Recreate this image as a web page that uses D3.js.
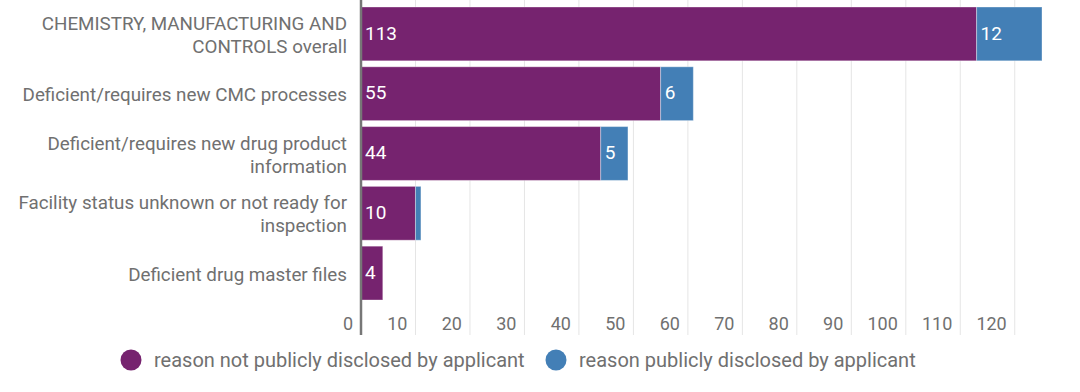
<!DOCTYPE html>
<html>
<head>
<meta charset="utf-8">
<script src="https://cdn.jsdelivr.net/npm/d3@7"></script>
<style>
  body { margin: 0; background: #fff; }
  text { font-family: Roboto, sans-serif; }
</style>
</head>
<body>
<div id="chart"></div>
<script>
const categories = [
  "CHEMISTRY, MANUFACTURING AND CONTROLS overall",
  "Deficient/requires new CMC processes",
  "Deficient/requires new drug product information",
  "Facility status unknown or not ready for inspection",
  "Deficient drug master files"
];
const notDisclosed = [113, 55, 44, 10, 4];
const disclosed = [12, 6, 5, 1, 0];
const seriesNames = ["reason not publicly disclosed by applicant", "reason publicly disclosed by applicant"];
const tickValues = [0, 10, 20, 30, 40, 50, 60, 70, 80, 90, 100, 110, 120];

const W = 1080, H = 392;
const colors = ["#76236f", "#437fb6"];
const textColor = "#707070";

const svg = d3.select("#chart").append("svg")
  .attr("width", W)
  .attr("height", H);

const x = d3.scaleLinear().domain([0, 125]).range([361, 1042]);
const y = d3.scaleBand().domain(categories).range([7, 300]).paddingInner(0.1).paddingOuter(0);

// gridlines
svg.append("g")
  .selectAll("line")
  .data(tickValues.slice(1))
  .join("line")
  .attr("x1", d => x(d)).attr("x2", d => x(d))
  .attr("y1", 0).attr("y2", 335)
  .attr("stroke", "#e5e5e5")
  .attr("stroke-width", 1);

// tick labels
svg.append("g")
  .selectAll("text")
  .data(tickValues)
  .join("text")
  .attr("x", d => x(d) - 8)
  .attr("y", 324)
  .attr("dy", "0.35em")
  .attr("text-anchor", "end")
  .attr("fill", textColor)
  .style("font-size", "18px")
  .text(d => d);

// stacked bars
const rows = categories.map((c, i) => ({ cat: c, vals: [notDisclosed[i], disclosed[i]] }));
rows.forEach(r => {
  let start = 0;
  r.vals.forEach((v, k) => {
    if (v <= 0) return;
    svg.append("rect")
      .attr("x", x(start))
      .attr("y", y(r.cat))
      .attr("width", x(start + v) - x(start))
      .attr("height", y.bandwidth())
      .attr("fill", colors[k])
      .attr("stroke", "#fff")
      .attr("stroke-opacity", 0.35)
      .attr("stroke-width", 1);
    if (x(start + v) - x(start) > 14) {
      svg.append("text")
        .attr("x", x(start) + 4)
        .attr("y", y(r.cat) + y.bandwidth() / 2 - 1)
        .attr("dy", "0.35em")
        .attr("fill", "#fff")
        .style("font-size", "19px")
        .text(v);
    }
    start += v;
  });
});

// axis line
svg.append("line")
  .attr("x1", x(0)).attr("x2", x(0))
  .attr("y1", 0).attr("y2", 335)
  .attr("stroke", "#777")
  .attr("stroke-width", 2.5);

// category labels with wrapping
function wrapLines(str, maxW, size) {
  const tmp = svg.append("text").style("font-size", size);
  const words = str.split(" ");
  const lines = [];
  let cur = "";
  words.forEach(w => {
    const test = cur ? cur + " " + w : w;
    tmp.text(test);
    if (tmp.node().getComputedTextLength() > maxW && cur) {
      lines.push(cur);
      cur = w;
    } else {
      cur = test;
    }
  });
  lines.push(cur);
  tmp.remove();
  return lines;
}

categories.forEach(c => {
  const lines = wrapLines(c, 340, "18.8px");
  const cy = y(c) + y.bandwidth() / 2 + 1;
  const lh = 23;
  const t = svg.append("text")
    .attr("text-anchor", "end")
    .attr("fill", textColor)
    .style("font-size", "18.8px");
  lines.forEach((l, i) => {
    t.append("tspan")
      .attr("x", 347)
      .attr("y", cy + (i - (lines.length - 1) / 2) * lh)
      .attr("dy", "0.35em")
      .text(l);
  });
});

// legend
const legend = svg.append("g");
const legX = [131, 556];
seriesNames.forEach((s, i) => {
  legend.append("circle")
    .attr("cx", legX[i]).attr("cy", 360).attr("r", 10.5)
    .attr("fill", colors[i]);
  legend.append("text")
    .attr("x", legX[i] + 23)
    .attr("y", 360)
    .attr("dy", "0.35em")
    .attr("fill", textColor)
    .style("font-size", "20px")
    .text(s);
});
</script>
</body>
</html>
